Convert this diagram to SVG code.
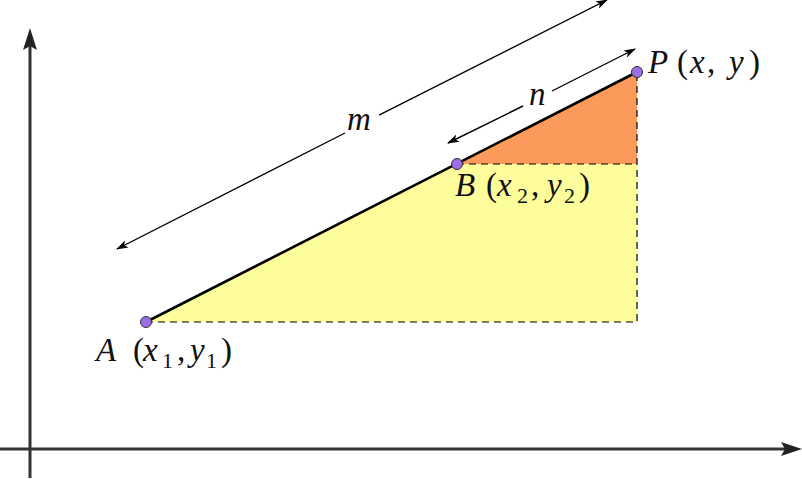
<svg xmlns="http://www.w3.org/2000/svg" width="802" height="479" viewBox="0 0 802 479">
<style>
.ax{stroke:#333;stroke-width:3;fill:none}
.axh{fill:#222}
.dash{stroke:#000;stroke-width:1.2;stroke-dasharray:7,5;fill:none}
.dim{stroke:#000;stroke-width:1.4;fill:none}
.pt{fill:#9b6ee8;stroke:#333;stroke-width:1}
.i{font-style:italic}
</style>
<defs>
<marker id="ah" viewBox="0 0 12 8" refX="11" refY="4" markerWidth="12" markerHeight="8" markerUnits="userSpaceOnUse" orient="auto-start-reverse">
<path d="M0,0 L12,4 L0,8 L3,4 z" fill="#000"/>
</marker>
</defs>
<g id="regions">
<polygon points="146,322 637,322 637,164 457,164" fill="#fdfd9b"/>
<polygon points="457,164 637,164 637,72" fill="#fb9a5a"/>
</g>
<g id="axes">
<line class="ax" x1="30" y1="478" x2="30" y2="45"/>
<polygon class="axh" points="30,28 37,50 30,46 23,50"/>
<line class="ax" x1="0" y1="449" x2="785" y2="449"/>
<polygon class="axh" points="802,449 781,456 785,449 781,442"/>
</g>
<g id="connectors">
<path class="dash" d="M146,322 H637 V72 M457,164 H637"/>
<line x1="146" y1="322" x2="637" y2="72" stroke="#000" stroke-width="2.6"/>
<path class="dim" d="M117,249 L345,133" marker-start="url(#ah)"/>
<path class="dim" d="M379,115 L607,0" marker-end="url(#ah)"/>
<path class="dim" d="M448,143 L523,106" marker-start="url(#ah)"/>
<path class="dim" d="M552,91 L635,49" marker-end="url(#ah)"/>
</g>
<g id="labels" font-family="'Liberation Serif', serif" font-size="33" fill="#111">
<text class="i" x="347" y="130">m</text>
<text class="i" x="529" y="105">n</text>
</g>
<g id="A" font-family="'Liberation Serif', serif" font-size="33" fill="#111">
<circle class="pt" cx="146" cy="322" r="5.5"/>
<text><tspan class="i" x="96" y="361">A</tspan><tspan x="133">(</tspan><tspan class="i" x="143">x</tspan><tspan font-size="22" x="162" y="368">1</tspan><tspan x="177" y="361">,</tspan><tspan class="i" x="190">y</tspan><tspan font-size="22" x="206" y="368">1</tspan><tspan x="221" y="361">)</tspan></text>
</g>
<g id="B" font-family="'Liberation Serif', serif" font-size="33" fill="#111">
<circle class="pt" cx="457" cy="164" r="5.5"/>
<text><tspan class="i" x="455" y="196">B</tspan><tspan x="486">(</tspan><tspan class="i" x="497">x</tspan><tspan font-size="22" x="517" y="203">2</tspan><tspan x="531" y="196">,</tspan><tspan class="i" x="547">y</tspan><tspan font-size="22" x="564" y="203">2</tspan><tspan x="579" y="196">)</tspan></text>
</g>
<g id="P" font-family="'Liberation Serif', serif" font-size="33" fill="#111">
<circle class="pt" cx="637" cy="72" r="5.5"/>
<text><tspan class="i" x="648" y="73">P</tspan><tspan x="677">(</tspan><tspan class="i" x="690">x</tspan><tspan x="707">,</tspan><tspan class="i" x="729">y</tspan><tspan x="749">)</tspan></text>
</g>
</svg>
